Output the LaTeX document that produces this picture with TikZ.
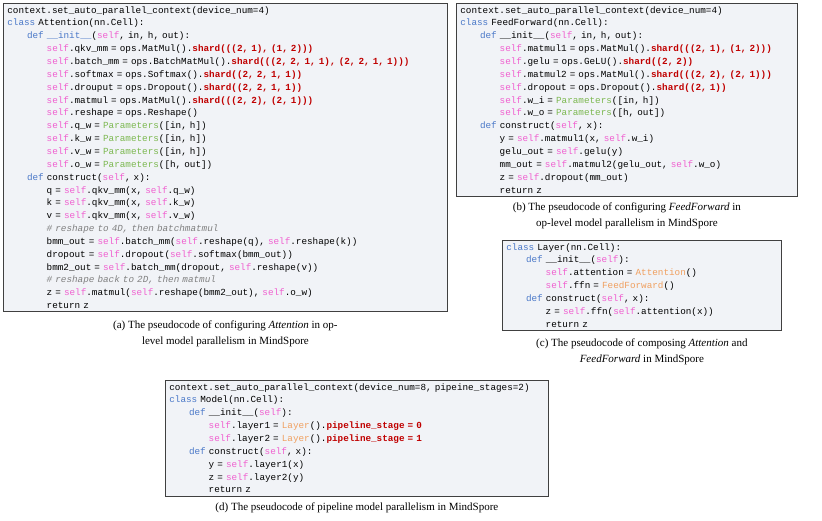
\documentclass[tikz,border=0pt]{standalone}
\usepackage{fontspec}
\setmainfont{Liberation Serif}
\setmonofont{Liberation Mono}
\usetikzlibrary{positioning}

\definecolor{kwblue}{HTML}{4A78C8}
\definecolor{selfpink}{HTML}{F060D0}
\definecolor{shardred}{HTML}{C00000}
\definecolor{prmgreen}{HTML}{7CB850}
\definecolor{clsorange}{HTML}{F0A060}
\definecolor{boxfill}{HTML}{F1F3F7}
\definecolor{cmtgray}{HTML}{808080}

\newcommand{\kw}[1]{\textcolor{kwblue}{#1}}
\newcommand{\slf}{\textcolor{selfpink}{self}}
\newcommand{\shd}[1]{\textcolor{shardred}{\textbf{#1}}}
\newcommand{\prm}[1]{\textcolor{prmgreen}{#1}}
\newcommand{\cls}[1]{\textcolor{clsorange}{#1}}
\newcommand{\cmt}[1]{\textcolor{cmtgray}{\textit{#1}}}
\newcommand{\ia}{\hspace*{4ex}}
\newcommand{\ib}{\hspace*{8ex}}

\begin{document}
\begin{tikzpicture}[x=1pt,y=-1pt,
  code/.style={draw=black!75,line width=0.8pt,fill=boxfill,anchor=north west,
    align=left,inner xsep=4pt,inner ysep=3pt,
    font=\ttfamily\fontsize{9.3}{12.85}\selectfont},
  caption/.style={align=center,font=\fontsize{11}{16}\selectfont}]

\useasboundingbox (0,0) rectangle (822,521);

% (a) Attention
\node[code,text width=436] (att) at (3,3) {%
context.set\_auto\_parallel\_context(device\_num=4)\\
\kw{class} Attention(nn.Cell):\\
\ia\kw{def} \kw{\_\_init\_\_}(\slf, in, h, out):\\
\ib\slf.qkv\_mm = ops.MatMul().\shd{shard(((2, 1), (1, 2)))}\\
\ib\slf.batch\_mm = ops.BatchMatMul().\shd{shard(((2, 2, 1, 1), (2, 2, 1, 1)))}\\
\ib\slf.softmax = ops.Softmax().\shd{shard((2, 2, 1, 1))}\\
\ib\slf.drouput = ops.Dropout().\shd{shard((2, 2, 1, 1))}\\
\ib\slf.matmul = ops.MatMul().\shd{shard(((2, 2), (2, 1)))}\\
\ib\slf.reshape = ops.Reshape()\\
\ib\slf.q\_w = \prm{Parameters}([in, h])\\
\ib\slf.k\_w = \prm{Parameters}([in, h])\\
\ib\slf.v\_w = \prm{Parameters}([in, h])\\
\ib\slf.o\_w = \prm{Parameters}([h, out])\\
\ia\kw{def} construct(\slf, x):\\
\ib q = \slf.qkv\_mm(x, \slf.q\_w)\\
\ib k = \slf.qkv\_mm(x, \slf.k\_w)\\
\ib v = \slf.qkv\_mm(x, \slf.v\_w)\\
\ib\cmt{\# reshape to 4D, then batchmatmul}\\
\ib bmm\_out = \slf.batch\_mm(\slf.reshape(q), \slf.reshape(k))\\
\ib dropout = \slf.dropout(\slf.softmax(bmm\_out))\\
\ib bmm2\_out = \slf.batch\_mm(dropout, \slf.reshape(v))\\
\ib\cmt{\# reshape back to 2D, then matmul}\\
\ib z = \slf.matmul(\slf.reshape(bmm2\_out), \slf.o\_w)\\
\ib return z};
\node[caption,below=5pt of att] (capa) {(a) The pseudocode of configuring \textit{Attention} in op-\\level model parallelism in MindSpore};

% (b) FeedForward
\node[code,text width=333] (ffn) at (456,3) {%
context.set\_auto\_parallel\_context(device\_num=4)\\
\kw{class} FeedForward(nn.Cell):\\
\ia\kw{def} \_\_init\_\_(\slf, in, h, out):\\
\ib\slf.matmul1 = ops.MatMul().\shd{shard(((2, 1), (1, 2)))}\\
\ib\slf.gelu = ops.GeLU().\shd{shard((2, 2))}\\
\ib\slf.matmul2 = ops.MatMul().\shd{shard(((2, 2), (2, 1)))}\\
\ib\slf.dropout = ops.Dropout().\shd{shard((2, 1))}\\
\ib\slf.w\_i = \prm{Parameters}([in, h])\\
\ib\slf.w\_o = \prm{Parameters}([h, out])\\
\ia\kw{def} construct(\slf, x):\\
\ib y = \slf.matmul1(x, \slf.w\_i)\\
\ib gelu\_out = \slf.gelu(y)\\
\ib mm\_out = \slf.matmul2(gelu\_out, \slf.w\_o)\\
\ib z = \slf.dropout(mm\_out)\\
\ib return z};
\node[caption,below=3pt of ffn] (capb) {(b) The pseudocode of configuring \textit{FeedForward} in\\op-level model parallelism in MindSpore};

% (c) Layer
\node[code,text width=271] (lay) at (502,240) {%
\kw{class} Layer(nn.Cell):\\
\ia\kw{def} \_\_init\_\_(\slf):\\
\ib\slf.attention = \cls{Attention}()\\
\ib\slf.ffn = \cls{FeedForward}()\\
\ia\kw{def} construct(\slf, x):\\
\ib z = \slf.ffn(\slf.attention(x))\\
\ib return z};
\node[caption,below=4pt of lay] (capc) {(c) The pseudocode of composing \textit{Attention} and\\\textit{FeedForward} in MindSpore};

% (d) Model
\node[code,text width=375] (mdl) at (165,380) {%
context.set\_auto\_parallel\_context(device\_num=8, pipeine\_stages=2)\\
\kw{class} Model(nn.Cell):\\
\ia\kw{def} \_\_init\_\_(\slf):\\
\ib\slf.layer1 = \cls{Layer}().\shd{pipeline\_stage = 0}\\
\ib\slf.layer2 = \cls{Layer}().\shd{pipeline\_stage = 1}\\
\ia\kw{def} construct(\slf, x):\\
\ib y = \slf.layer1(x)\\
\ib z = \slf.layer2(y)\\
\ib return z};
\node[caption,below=3pt of mdl] (capd) {(d) The pseudocode of pipeline model parallelism in MindSpore};

\end{tikzpicture}
\end{document}
